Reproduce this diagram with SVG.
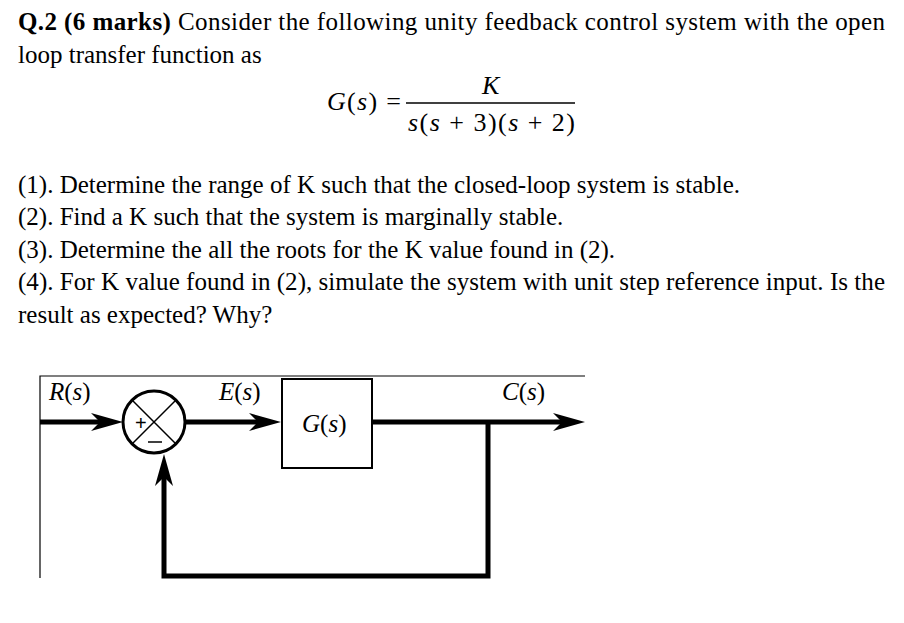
<svg xmlns="http://www.w3.org/2000/svg" width="904" height="623" viewBox="0 0 904 623">
<style>
.t{font-family:"Liberation Serif",serif;font-size:25px;fill:#000}
.m{font-family:"Liberation Serif",serif;font-size:26px;fill:#000}
.i{font-style:italic}
.w{stroke:#000;stroke-width:5;fill:none}
.ah{fill:#000}
</style>
<rect width="904" height="623" fill="#fff"/>
<text class="t" x="18" y="30" textLength="867" lengthAdjust="spacing"><tspan font-weight="bold">Q.2 (6 marks)</tspan> Consider the following unity feedback control system with the open</text>
<text class="t" x="18" y="63">loop transfer function as</text>
<text class="m" x="327" y="110" textLength="74" lengthAdjust="spacing"><tspan class="i">G</tspan>(<tspan class="i">s</tspan>) =</text>
<text class="m i" x="482" y="94">K</text>
<line x1="406" y1="103" x2="575" y2="103" stroke="#000" stroke-width="1.5"/>
<text class="m" x="408" y="131" textLength="167" lengthAdjust="spacing"><tspan class="i">s</tspan>(<tspan class="i">s</tspan> + 3)(<tspan class="i">s</tspan> + 2)</text>
<text class="t" x="18" y="193">(1). Determine the range of K such that the closed-loop system is stable.</text>
<text class="t" x="18" y="225">(2). Find a K such that the system is marginally stable.</text>
<text class="t" x="18" y="258">(3). Determine the all the roots for the K value found in (2).</text>
<text class="t" x="18" y="290" textLength="867" lengthAdjust="spacing">(4). For K value found in (2), simulate the system with unit step reference input. Is the</text>
<text class="t" x="18" y="323">result as expected? Why?</text>
<g id="frame"><path d="M40,578 V376 H585" stroke="#000" stroke-width="1.2" fill="none"/></g>
<g id="sum"><circle cx="154" cy="422" r="31" fill="#fff" stroke="#000" stroke-width="3"/>
<path d="M132,400 L176,444 M176,400 L132,444" stroke="#000" stroke-width="1.5"/>
<text x="135" y="430" font-family="Liberation Sans,sans-serif" font-size="20">+</text>
<line x1="148" y1="442" x2="162" y2="442" stroke="#000" stroke-width="1.5"/></g>
<g id="G"><rect x="282" y="379" width="90" height="89" fill="#fff" stroke="#000" stroke-width="2"/>
<text class="t" x="302" y="432"><tspan class="i">G</tspan>(<tspan class="i">s</tspan>)</text></g>
<g id="connectors">
<line class="w" x1="40" y1="422" x2="110" y2="422"/>
<path class="ah" d="M123,422 L91,413 L100,422 L91,431 z"/>
<line class="w" x1="185" y1="422" x2="265" y2="422"/>
<path class="ah" d="M281,422 L249,413 L258,422 L249,431 z"/>
<line class="w" x1="372" y1="422" x2="570" y2="422"/>
<path class="ah" d="M585,422 L553,413 L562,422 L553,431 z"/>
<path class="w" d="M488,422 V576 H164 V470"/>
<path class="ah" d="M164,454 L155,486 L164,477 L173,486 z"/>
</g>
<text class="t" x="49" y="400"><tspan class="i">R</tspan>(<tspan class="i">s</tspan>)</text>
<text class="t" x="219" y="400"><tspan class="i">E</tspan>(<tspan class="i">s</tspan>)</text>
<text class="t" x="502" y="400"><tspan class="i">C</tspan>(<tspan class="i">s</tspan>)</text>
</svg>
